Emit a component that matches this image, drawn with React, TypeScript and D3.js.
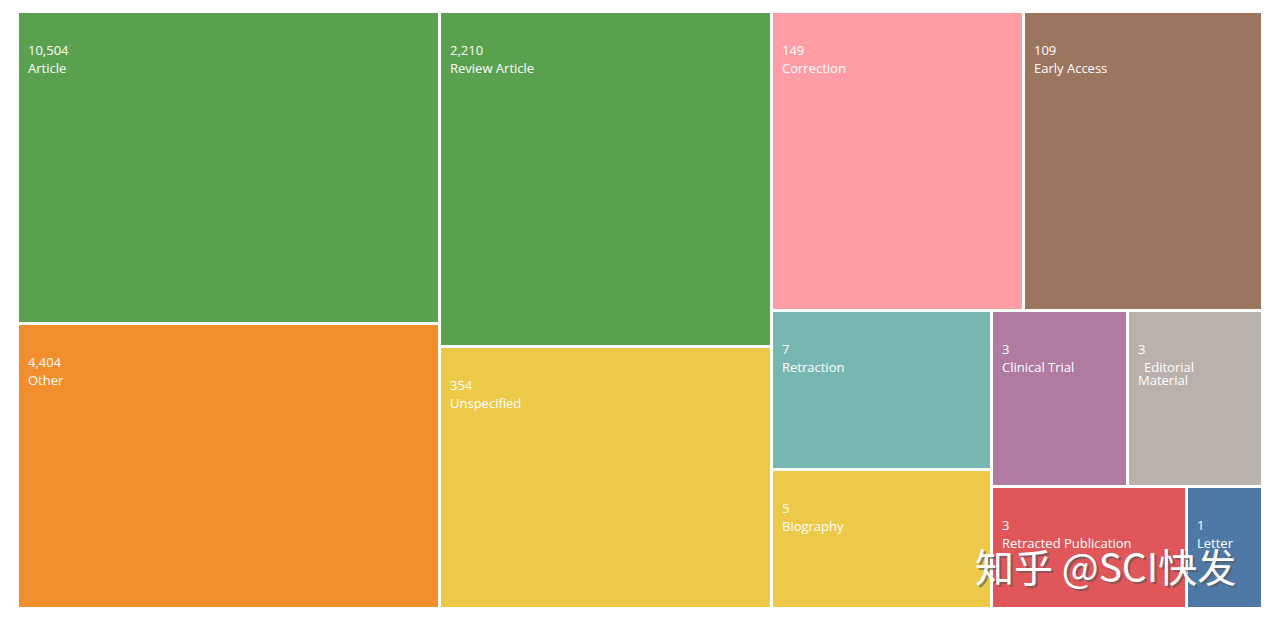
import React from "react";
import * as d3 from "d3";

const categories = [
  "Article",
  "Other",
  "Review Article",
  "Unspecified",
  "Correction",
  "Early Access",
  "Retraction",
  "Biography",
  "Clinical Trial",
  "Editorial Material",
  "Retracted Publication",
  "Letter",
];
const counts = [10504, 4404, 2210, 354, 149, 109, 7, 5, 3, 3, 3, 1];
const colorKeys = [
  "green", "orange", "green", "yellow", "pink", "brown",
  "teal", "yellow", "purple", "gray", "red", "blue",
];
const palette: Record<string, string> = {
  blue: "#4E79A7",
  orange: "#F28E2B",
  red: "#E15759",
  teal: "#76B7B2",
  green: "#59A14F",
  yellow: "#EDC948",
  purple: "#B07AA1",
  pink: "#FF9DA7",
  brown: "#9C755F",
  gray: "#BAB0AC",
};

const W = 1267;
const H = 620;
const X0 = 19, Y0 = 13, X1 = 1261, Y1 = 607;
const GAP = 3;
const FONT = "'Open Sans', 'Noto Sans', sans-serif";

// area weight grows with the log of the count
const weight = (c: number) => Math.log(c) + 0.7;

export default function App() {
  const data = categories.map((name, i) => ({
    name,
    count: counts[i],
    color: palette[colorKeys[i]],
    order: i,
  }));
  const root = d3
    .hierarchy<any>({ children: data })
    .sum((d: any) => (d.count ? weight(d.count) : 0))
    .sort((a: any, b: any) => (b.value - a.value) || (a.data.order - b.data.order));
  d3
    .treemap<any>()
    .tile(d3.treemapSquarify.ratio(1))
    .size([X1 - X0 + GAP, Y1 - Y0 + GAP])
    .round(true)(root);
  const leaves = root.leaves() as any[];
  const fmt = d3.format(",");

  return (
    <svg
      width={W}
      height={H}
      style={{ position: "absolute", left: 0, top: 0, background: "#fff" }}
      fontFamily={FONT}
    >
      <g transform={`translate(${X0},${Y0})`}>
        {leaves.map((l) => {
          const x0 = l.x0;
          const y0 = l.y0;
          const w = l.x1 - l.x0 - GAP;
          const h = l.y1 - l.y0 - GAP;
          const name: string = l.data.name;
          const approxW = name.length * 6.6;
          const wrap = approxW > w * 0.8 && name.includes(" ");
          return (
            <g key={name}>
              <rect x={x0} y={y0} width={w} height={h} fill={l.data.color} />
              <text x={x0 + 9} y={y0 + 42} fill="#fff" fontSize={13}>
                {fmt(l.data.count)}
              </text>
              {wrap ? (
                <text fill="#fff" fontSize={13}>
                  <tspan x={x0 + 15} y={y0 + 60}>{name.split(" ")[0]}</tspan>
                  <tspan x={x0 + 9} y={y0 + 73}>{name.split(" ").slice(1).join(" ")}</tspan>
                </text>
              ) : (
                <text x={x0 + 9} y={y0 + 60} fill="#fff" fontSize={13}>
                  {name}
                </text>
              )}
            </g>
          );
        })}
      </g>
      <text
        x={975}
        y={582}
        fontSize={39}
        fontFamily="'Noto Sans CJK SC', sans-serif"
        fill="#555"
        opacity={0.6}
        transform="translate(2,2)"
      >
        知乎 @SCI快发
      </text>
      <text x={975} y={582} fontSize={39} fontFamily="'Noto Sans CJK SC', sans-serif" fill="#fff">
        知乎 @SCI快发
      </text>
    </svg>
  );
}
